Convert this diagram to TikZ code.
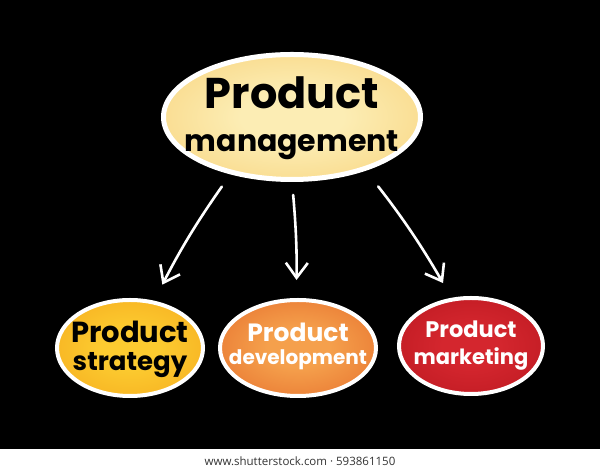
\documentclass[tikz,border=0pt]{standalone}
\usepackage{fontspec}
\setmainfont{Poppins}
\newfontfamily\stockfont{Open Sans}
\usetikzlibrary{shapes.geometric,arrows.meta}
\makeatletter
\pgfdeclareradialshading[tikz@radial@inner,tikz@radial@outer]{glow}{\pgfpoint{0bp}{0bp}}{%
  color(0bp)=(tikz@radial@inner); color(10bp)=(tikz@radial@inner); color(50bp)=(tikz@radial@outer)}
\makeatother
\definecolor{mgmtin}{HTML}{FCEDB4}
\definecolor{mgmtout}{HTML}{F5C55E}
\definecolor{stratin}{HTML}{FCCB30}
\definecolor{stratout}{HTML}{F29A14}
\definecolor{devin}{HTML}{F5A04C}
\definecolor{devout}{HTML}{DE561C}
\definecolor{markin}{HTML}{D4262E}
\definecolor{markout}{HTML}{AE1119}
\tikzset{
  bubble/.style={ellipse, draw=white, line width=4pt, inner sep=0pt},
  caption/.style={align=center, inner sep=0pt},
  arr/.style={white, line width=2.6pt, line cap=round,
    -{Straight Barb[length=15pt,width=22pt,line width=2.6pt]}},
}
\begin{document}
\begin{tikzpicture}[x=1pt,y=1pt]
    \fill[black] (0,21) rectangle (600,470);
    \fill[white] (0,0) rectangle (600,21);
    \useasboundingbox (0,0) rectangle (600,470);
    % main topic
    \node[bubble, line width=5pt, minimum width=257pt, minimum height=125pt,
      inner color=mgmtin, outer color=mgmtout, shading=glow] (pm) at (292,353) {};
    \node[caption, font=\bfseries\fontsize{30}{43}\selectfont] (pmtext) at (292,352)
      {{\fontsize{43}{43}\selectfont Product}\\ management};
    % sub topics
    \node[bubble, minimum width=146pt, minimum height=96pt,
      inner color=stratin, outer color=stratout, shading=glow] (ps) at (130,122) {};
    \node[caption, font=\bfseries\fontsize{26}{28}\selectfont] (pstext) at (130,121)
      {{\fontsize{29}{28}\selectfont Product}\\ strategy};
    \node[bubble, minimum width=156pt, minimum height=96pt,
      inner color=devin, outer color=devout, shading=glow] (pd) at (298,122) {};
    \node[caption, text=white, font=\bfseries\fontsize{20}{23}\selectfont] (pdtext) at (298,124)
      {{\fontsize{25}{23}\selectfont Product}\\ development};
    \node[bubble, minimum width=144pt, minimum height=96pt,
      inner color=markin, outer color=markout, shading=glow] (pk) at (471,124) {};
    \node[caption, text=white, font=\bfseries\fontsize{21}{27}\selectfont] (pktext) at (471,124)
      {{\fontsize{22.5}{27}\selectfont Product}\\ marketing};
    % arrows
    \draw[arr, shorten <=15pt, shorten >=18pt] (pm.223) to[bend right=4] (ps.63);
    \draw[arr, shorten <=13pt, shorten >=18pt] (pm.-90) to[bend left=3] (pd.92);
    \draw[arr, shorten <=20pt, shorten >=17pt] (pm.-36) to[bend left=4] (pk.112);
    % footer
    \node[font=\stockfont\fontsize{11.5}{12}\selectfont, text=black!80] (url) at (300,9)
      {www.shutterstock.com · 593861150};
\end{tikzpicture}
\end{document}
